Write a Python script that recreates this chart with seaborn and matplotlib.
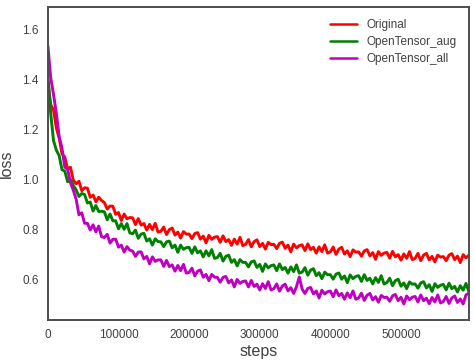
import numpy as np
import pandas as pd
import matplotlib
matplotlib.use("Agg")
import matplotlib.pyplot as plt
import seaborn as sns

# training steps (logged every 4000 steps)
steps = list(range(0, 600000, 4000))

loss_original = [
    1.392, 1.300, 1.278, 1.206, 1.166, 1.104, 1.090, 1.042, 1.050, 0.998,
    0.984, 0.994, 0.956, 0.968, 0.966, 0.930, 0.939, 0.912, 0.930, 0.917,
    0.909, 0.883, 0.895, 0.894, 0.862, 0.869, 0.837, 0.863, 0.844, 0.849,
    0.848, 0.821, 0.845, 0.819, 0.825, 0.799, 0.822, 0.801, 0.826, 0.791,
    0.794, 0.811, 0.781, 0.801, 0.807, 0.779, 0.791, 0.767, 0.793, 0.783,
    0.783, 0.765, 0.785, 0.789, 0.763, 0.775, 0.748, 0.778, 0.762, 0.771,
    0.773, 0.750, 0.776, 0.753, 0.761, 0.738, 0.763, 0.743, 0.770, 0.737,
    0.742, 0.761, 0.732, 0.753, 0.760, 0.733, 0.746, 0.723, 0.750, 0.741,
    0.742, 0.725, 0.746, 0.751, 0.726, 0.739, 0.712, 0.743, 0.728, 0.737,
    0.740, 0.717, 0.744, 0.721, 0.730, 0.707, 0.732, 0.713, 0.740, 0.707,
    0.712, 0.731, 0.702, 0.723, 0.730, 0.703, 0.716, 0.693, 0.720, 0.711,
    0.712, 0.695, 0.716, 0.721, 0.696, 0.709, 0.682, 0.713, 0.698, 0.707,
    0.710, 0.687, 0.714, 0.692, 0.701, 0.679, 0.704, 0.686, 0.713, 0.681,
    0.686, 0.706, 0.677, 0.699, 0.706, 0.680, 0.694, 0.672, 0.699, 0.691,
    0.693, 0.677, 0.699, 0.705, 0.681, 0.695, 0.669, 0.701, 0.688, 0.698,
]

loss_aug = [
    1.414, 1.264, 1.156, 1.118, 1.096, 1.040, 1.034, 0.992, 1.000, 0.977,
    0.959, 0.933, 0.945, 0.941, 0.907, 0.911, 0.875, 0.897, 0.873, 0.874,
    0.872, 0.840, 0.863, 0.836, 0.836, 0.804, 0.825, 0.802, 0.825, 0.788,
    0.784, 0.799, 0.766, 0.783, 0.786, 0.755, 0.764, 0.739, 0.764, 0.753,
    0.752, 0.733, 0.752, 0.755, 0.728, 0.739, 0.710, 0.739, 0.722, 0.729,
    0.730, 0.706, 0.732, 0.708, 0.716, 0.692, 0.716, 0.696, 0.721, 0.686,
    0.689, 0.706, 0.675, 0.694, 0.699, 0.670, 0.681, 0.656, 0.681, 0.670,
    0.670, 0.652, 0.672, 0.676, 0.650, 0.662, 0.634, 0.664, 0.648, 0.657,
    0.660, 0.637, 0.664, 0.641, 0.650, 0.627, 0.652, 0.633, 0.660, 0.627,
    0.631, 0.649, 0.619, 0.639, 0.645, 0.617, 0.629, 0.605, 0.631, 0.621,
    0.621, 0.603, 0.623, 0.628, 0.603, 0.616, 0.589, 0.620, 0.605, 0.614,
    0.617, 0.594, 0.621, 0.598, 0.607, 0.584, 0.609, 0.590, 0.617, 0.584,
    0.589, 0.607, 0.577, 0.597, 0.603, 0.575, 0.588, 0.565, 0.592, 0.583,
    0.584, 0.567, 0.588, 0.593, 0.568, 0.581, 0.554, 0.585, 0.570, 0.579,
    0.582, 0.560, 0.587, 0.565, 0.574, 0.552, 0.577, 0.559, 0.586, 0.554,
]

loss_all = [
    1.534, 1.408, 1.340, 1.266, 1.172, 1.126, 1.050, 1.042, 0.988, 0.958,
    0.922, 0.860, 0.868, 0.826, 0.826, 0.799, 0.820, 0.792, 0.815, 0.773,
    0.769, 0.782, 0.747, 0.762, 0.763, 0.731, 0.739, 0.711, 0.733, 0.719,
    0.715, 0.694, 0.711, 0.712, 0.684, 0.694, 0.664, 0.692, 0.674, 0.680,
    0.680, 0.654, 0.678, 0.653, 0.660, 0.635, 0.658, 0.637, 0.662, 0.627,
    0.630, 0.647, 0.616, 0.635, 0.640, 0.611, 0.622, 0.597, 0.622, 0.611,
    0.610, 0.591, 0.610, 0.614, 0.588, 0.600, 0.572, 0.602, 0.586, 0.594,
    0.596, 0.572, 0.598, 0.574, 0.583, 0.560, 0.585, 0.566, 0.593, 0.560,
    0.565, 0.584, 0.555, 0.576, 0.583, 0.556, 0.569, 0.546, 0.573, 0.612,
    0.564, 0.546, 0.566, 0.570, 0.544, 0.556, 0.528, 0.559, 0.544, 0.553,
    0.556, 0.533, 0.560, 0.537, 0.546, 0.523, 0.548, 0.529, 0.556, 0.523,
    0.528, 0.547, 0.518, 0.539, 0.546, 0.520, 0.533, 0.511, 0.538, 0.530,
    0.531, 0.515, 0.536, 0.542, 0.517, 0.531, 0.504, 0.536, 0.521, 0.531,
    0.534, 0.512, 0.540, 0.517, 0.527, 0.505, 0.530, 0.512, 0.540, 0.508,
    0.514, 0.534, 0.506, 0.528, 0.536, 0.510, 0.524, 0.504, 0.540, 0.547,
]

series_names = ["Original", "OpenTensor_aug", "OpenTensor_all"]
series_colors = ["r", "g", "m"]

df = pd.concat([
    pd.DataFrame({"steps": steps, "loss": vals, "model": name})
    for name, vals in zip(series_names, [loss_original, loss_aug, loss_all])
])

sns.set_style("white")
plt.rcParams["font.family"] = ["Liberation Sans", "DejaVu Sans"]

fig = plt.figure(figsize=(4.74, 3.62), dpi=100)
ax = fig.add_axes([0.101, 0.116, 0.888, 0.865])

sns.lineplot(data=df, x="steps", y="loss", hue="model",
             palette=dict(zip(series_names, series_colors)),
             estimator=None, linewidth=2.1, ax=ax)

ax.set_xlim(0, steps[-1])
ax.set_ylim(0.44, 1.69)
ax.set_yticks([0.6, 0.8, 1.0, 1.2, 1.4, 1.6])
ax.set_xticks([0, 100000, 200000, 300000, 400000, 500000])
ax.tick_params(labelsize=8.5, colors=".25", pad=3)
ax.set_xlabel("steps", fontsize=11.5, color=".25", labelpad=2)
ax.set_ylabel("loss", fontsize=11.5, color=".25", labelpad=6)
for s in ax.spines.values():
    s.set_color(".3")
    s.set_linewidth(1.4)

leg = ax.legend(loc="upper right", frameon=False, fontsize=8.5,
                handlelength=2.3, labelspacing=0.45, borderaxespad=0.6)
for t in leg.get_texts():
    t.set_color(".25")
for h in leg.get_lines():
    h.set_linewidth(1.8)

fig.savefig("out.png", dpi=100)
